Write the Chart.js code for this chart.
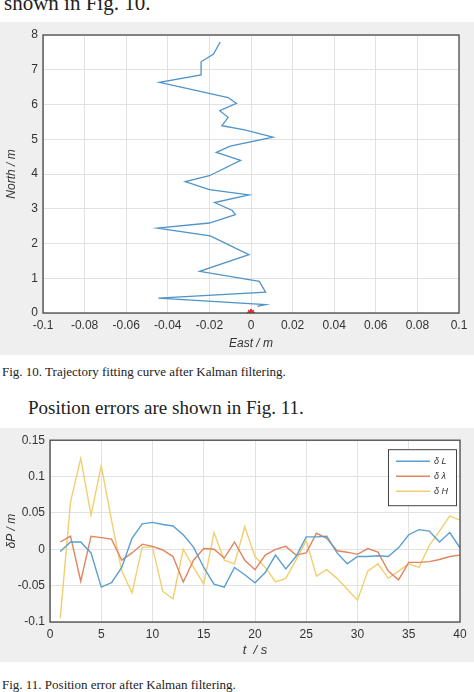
<!DOCTYPE html>
<html><head><meta charset="utf-8">
<script src="https://cdn.jsdelivr.net/npm/chart.js"></script>
<style>
body{margin:0;width:474px;height:692px;overflow:hidden;background:#fff;position:relative;font-family:"Liberation Serif",serif;color:#222}
.t{position:absolute;white-space:nowrap}
.fig{position:absolute;left:0;width:474px;background:#efefef}
</style></head><body>
<div class="t" style="top:-9px;left:4px;font-size:21px">shown in Fig. 10.</div>
<div class="fig" style="top:22px;height:333px"><canvas id="c1" width="474" height="333"></canvas></div>
<div class="t" style="top:364px;left:2px;font-size:13px">Fig. 10. Trajectory fitting curve after Kalman filtering.</div>
<div class="t" style="top:397px;left:28px;font-size:19px">Position errors are shown in Fig. 11.</div>
<div class="fig" style="top:428px;height:234px"><canvas id="c2" width="474" height="234"></canvas></div>
<div class="t" style="top:677px;left:2px;font-size:13px">Fig. 11. Position error after Kalman filtering.</div>
<script>
const east=[0.003,0.007,-0.0445,0.007,0.004,-0.0247,-0.001,-0.0196,-0.045,-0.02,-0.0075,-0.009,-0.0175,-0.001,-0.02,-0.0316,-0.02,-0.005,-0.0167,-0.01,0.0106,-0.003,-0.014,-0.011,-0.015,-0.007,-0.011,-0.044,-0.024,-0.024,-0.018,-0.0148];
const north=[0.19,0.24,0.43,0.6,0.91,1.2,1.68,2.22,2.44,2.59,2.83,2.95,3.18,3.4,3.55,3.78,3.95,4.39,4.62,4.8,5.06,5.27,5.39,5.63,5.82,6.03,6.2,6.64,6.85,7.23,7.45,7.8];
const xTicks1=[-0.1,-0.08,-0.06,-0.04,-0.02,0,0.02,0.04,0.06,0.08,0.1];
const tSec=Array.from({length:40},(_,i)=>i+1);
const dL=[-0.003,0.01,0.01,-0.005,-0.052,-0.046,-0.025,0.015,0.035,0.037,0.034,0.032,0.02,0.003,-0.025,-0.048,-0.052,-0.025,-0.035,-0.046,-0.032,-0.008,-0.027,-0.01,0.017,0.017,0.018,-0.005,-0.02,-0.01,-0.01,-0.009,-0.01,0.002,0.02,0.027,0.025,0.01,0.023,0.002];
const dLam=[0.01,0.018,-0.044,0.018,0.016,0.014,-0.015,-0.005,0.007,0.004,-0.001,-0.01,-0.045,-0.015,0.001,0.0,-0.012,0.01,-0.015,-0.028,-0.008,0.0,0.004,-0.008,-0.005,0.022,0.015,-0.002,-0.004,-0.007,0.001,-0.004,-0.03,-0.042,-0.018,-0.018,-0.017,-0.014,-0.01,-0.008];
const dH=[-0.095,0.065,0.125,0.047,0.115,0.04,-0.03,-0.06,0.003,0.003,-0.058,-0.068,0.0,-0.025,-0.048,0.023,-0.015,-0.02,0.031,-0.01,-0.025,-0.045,-0.04,-0.015,0.012,-0.037,-0.028,-0.04,-0.055,-0.07,-0.03,-0.02,-0.04,-0.03,-0.02,-0.025,0.005,0.025,0.046,0.04];
const seriesNames=['δ L','δ λ','δ H'];
const colors=['#5a9fd0','#e0855e','#f1cf6e'];

const F="'Liberation Sans',Arial,sans-serif";
const tickFont={family:F,size:12};
const grid={color:'#e2e2e2',drawTicks:false};
const box={id:'box',afterDraw(c){const a=c.chartArea,x=c.ctx;x.save();x.strokeStyle='#4a4a4a';x.lineWidth=1.3;x.strokeRect(a.left,a.top,a.right-a.left,a.bottom-a.top);x.restore();},
 beforeDraw(c){const a=c.chartArea,x=c.ctx;x.save();x.fillStyle='#fff';x.fillRect(a.left,a.top,a.right-a.left,a.bottom-a.top);x.restore();}};

new Chart(document.getElementById('c1'),{type:'scatter',
 data:{datasets:[
  {data:east.map((e,i)=>({x:e,y:north[i]})),showLine:true,borderColor:'#4f94c8',borderWidth:1.3,pointRadius:0,tension:0},
  {data:[{x:0,y:0}],pointStyle:'star',pointRadius:4,borderColor:'#e03030',backgroundColor:'#e03030',borderWidth:2}]},
 options:{responsive:false,animation:false,plugins:{legend:{display:false},tooltip:{enabled:false}},
  layout:{padding:{top:13,right:15,left:0,bottom:0}},
  scales:{
   x:{type:'linear',min:-0.1,max:0.1,afterBuildTicks(s){s.ticks=xTicks1.map(v=>({value:v}));},
      ticks:{font:tickFont,color:'#333',padding:5,callback:v=>String(+v.toFixed(2))},grid,
      title:{display:true,text:'East / m',font:{family:F,size:12,style:'italic'},color:'#333',padding:{top:2}},
      afterFit(s){s.height=42;}},
   y:{min:0,max:8,ticks:{stepSize:1,font:tickFont,color:'#333',padding:5},grid,
      title:{display:true,text:'North / m',font:{family:F,size:12,style:'italic'},color:'#333',padding:{bottom:2}},
      afterFit(s){s.width=43;}}}},
 plugins:[box]});

const legendPlugin={id:'lg',afterDraw(c){const a=c.chartArea,x=c.ctx;const w=68,h=56,l=a.right-w-4,t=a.top+9;
 x.save();x.fillStyle='#fff';x.fillRect(l,t,w,h);x.strokeStyle='#444';x.lineWidth=1;x.strokeRect(l+.5,t+.5,w,h);
 x.font="italic 9px "+F;x.textBaseline='middle';
 seriesNames.forEach((n,i)=>{const y=t+12+i*15;x.strokeStyle=colors[i];x.lineWidth=1.5;x.beginPath();x.moveTo(l+8,y);x.lineTo(l+42,y);x.stroke();x.fillStyle='#333';x.fillText(n,l+46,y);});
 x.restore();}};

new Chart(document.getElementById('c2'),{type:'line',
 data:{labels:tSec,datasets:[dL,dLam,dH].map((d,i)=>({label:seriesNames[i],data:d.map((v,j)=>({x:tSec[j],y:v})),borderColor:colors[i],borderWidth:1.4,pointRadius:0,tension:0}))},
 options:{responsive:false,animation:false,plugins:{legend:{display:false},tooltip:{enabled:false}},
  layout:{padding:{top:10,right:14,left:0,bottom:0}},
  scales:{
   x:{type:'linear',min:0,max:40,ticks:{stepSize:5,font:tickFont,color:'#333',padding:5},grid,
      title:{display:true,text:'t  / s',font:{family:F,size:13,style:'italic'},color:'#333',padding:{top:1}},
      afterFit(s){s.height=40;}},
   y:{min:-0.1,max:0.15,ticks:{stepSize:0.05,font:tickFont,color:'#333',padding:5,callback:v=>String(+v.toFixed(2))},grid,
      title:{display:true,text:'δP / m',font:{family:F,size:12,style:'italic'},color:'#333',padding:{bottom:2}},
      afterFit(s){s.width=50;}}}},
 plugins:[box,legendPlugin]});
</script></body></html>
